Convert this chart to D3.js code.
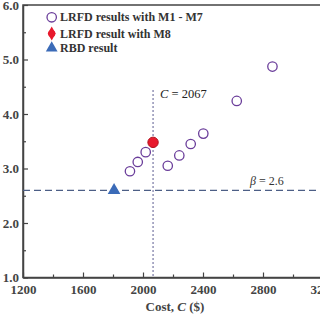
<!DOCTYPE html>
<html>
<head>
<meta charset="utf-8">
<script src="https://cdn.jsdelivr.net/npm/d3@7"></script>
<style>
  body { margin: 0; background: #fff; }
  text { font-family: "Liberation Serif", "Times New Roman", serif; }
</style>
</head>
<body>
<script>
// data
var lrfdCost = [1913, 1965, 2018, 2165, 2242, 2318, 2402, 2625, 2863];
var lrfdBeta = [2.95, 3.12, 3.30, 3.05, 3.24, 3.45, 3.64, 4.24, 4.87];
var m8Cost = [2067];
var m8Beta = [3.48];
var rbdCost = [1807];
var rbdBeta = [2.6];
var xTicks = [1200, 1600, 2000, 2400, 2800, 3200];
var yTicks = [1, 2, 3, 4, 5, 6];
var targetCost = 2067;
var targetBeta = 2.6;
var legendLabels = ["LRFD results with M1 - M7", "LRFD result with M8", "RBD result"];

var width = 320, height = 320;
var axisColor = "#444";

var svg = d3.select("body").append("svg")
  .attr("width", width)
  .attr("height", height);

var xScale = d3.scaleLinear().domain([1200, 3200]).range([23, 323]);
var yScale = d3.scaleLinear().domain([1, 6]).range([277.5, 5]);

// frame
svg.append("rect")
  .attr("x", xScale(1200)).attr("y", yScale(6))
  .attr("width", xScale(3200) - xScale(1200))
  .attr("height", yScale(1) - yScale(6))
  .attr("fill", "none")
  .attr("stroke", axisColor)
  .attr("stroke-width", 1.5);

// x axis, ticks inward
var xAxis = d3.axisBottom(xScale).tickValues(xTicks).tickSizeInner(-5).tickSizeOuter(0)
  .tickFormat(d3.format("d")).tickPadding(7);
svg.append("g").attr("transform", "translate(0," + yScale(1) + ")").call(xAxis);
var xMinor = d3.axisBottom(xScale).tickValues(d3.range(1400, 3200, 400)).tickSize(-3).tickFormat("");
svg.append("g").attr("transform", "translate(0," + yScale(1) + ")").call(xMinor)
  .select(".domain").remove();

// y axis, ticks inward
var yAxis = d3.axisLeft(yScale).tickValues(yTicks).tickSizeInner(-5).tickSizeOuter(0)
  .tickFormat(d3.format(".1f")).tickPadding(4);
svg.append("g").attr("transform", "translate(" + xScale(1200) + ",0)").call(yAxis);
var yMinor = d3.axisLeft(yScale).tickValues([1.5, 2.5, 3.5, 4.5, 5.5]).tickSize(-3).tickFormat("");
svg.append("g").attr("transform", "translate(" + xScale(1200) + ",0)").call(yMinor)
  .select(".domain").remove();

svg.selectAll(".domain").attr("stroke", axisColor).attr("stroke-width", 1.5);
svg.selectAll(".tick line").attr("stroke", axisColor).attr("stroke-width", 1.2);
svg.selectAll(".tick text")
  .attr("fill", axisColor)
  .style("font-family", "Liberation Serif, serif")
  .style("font-weight", "bold")
  .style("font-size", "13px");

// axis title
var title = svg.append("text")
  .attr("x", 175).attr("y", 311)
  .attr("text-anchor", "middle")
  .attr("fill", axisColor)
  .style("font-weight", "bold")
  .style("font-size", "13px");
title.append("tspan").text("Cost, ");
title.append("tspan").style("font-style", "italic").text("C");
title.append("tspan").text(" ($)");

// reference lines
svg.append("line")
  .attr("x1", xScale(targetCost)).attr("x2", xScale(targetCost))
  .attr("y1", 90).attr("y2", yScale(1))
  .attr("stroke", "#5c5c90").attr("stroke-width", 1)
  .attr("stroke-dasharray", "2,2");

svg.append("line")
  .attr("x1", xScale(1200)).attr("x2", xScale(3200))
  .attr("y1", yScale(targetBeta)).attr("y2", yScale(targetBeta))
  .attr("stroke", "#4d5f86").attr("stroke-width", 1.2)
  .attr("stroke-dasharray", "7,4");

var cLabel = svg.append("text")
  .attr("x", xScale(targetCost) + 7).attr("y", 98)
  .attr("fill", "#222").style("font-size", "12.5px");
cLabel.append("tspan").style("font-style", "italic").text("C");
cLabel.append("tspan").text(" = " + targetCost);

var bLabel = svg.append("text")
  .attr("x", 250).attr("y", 185)
  .attr("fill", "#333").style("font-size", "12px");
bLabel.append("tspan").style("font-style", "italic").text("\u03B2");
bLabel.append("tspan").text(" = " + targetBeta);

// points
var purple = "#6a3d9a", red = "#e8192c", blue = "#3b6bb8";

svg.selectAll("circle.lrfd")
  .data(lrfdCost)
  .enter().append("circle")
  .attr("class", "lrfd")
  .attr("cx", function(d) { return xScale(d); })
  .attr("cy", function(d, i) { return yScale(lrfdBeta[i]); })
  .attr("r", 4.7)
  .attr("fill", "none")
  .attr("stroke", purple)
  .attr("stroke-width", 1.3);

svg.selectAll("circle.m8")
  .data(m8Cost)
  .enter().append("circle")
  .attr("class", "m8")
  .attr("cx", function(d) { return xScale(d); })
  .attr("cy", function(d, i) { return yScale(m8Beta[i]); })
  .attr("r", 5.2)
  .attr("fill", red)
  .attr("stroke", "#b0101c")
  .attr("stroke-width", 1);

svg.selectAll("path.rbd")
  .data(rbdCost)
  .enter().append("path")
  .attr("class", "rbd")
  .attr("d", d3.symbol().type(d3.symbolTriangle).size(70))
  .attr("transform", function(d, i) {
    return "translate(" + xScale(d) + "," + yScale(rbdBeta[i]) + ")";
  })
  .attr("fill", blue);

// legend
var legend = svg.append("g");
var ly = [17.3, 33.5, 48];
legend.append("circle").attr("cx", 51.7).attr("cy", ly[0]).attr("r", 4.7)
  .attr("fill", "none").attr("stroke", purple).attr("stroke-width", 1.3);
legend.append("path").attr("d", d3.symbol().type(d3.symbolDiamond).size(55))
  .attr("transform", "translate(51.7," + ly[1] + ")").attr("fill", red);
legend.append("circle").attr("cx", 51.7).attr("cy", ly[1]).attr("r", 3.6).attr("fill", red);
legend.append("path").attr("d", d3.symbol().type(d3.symbolTriangle).size(60))
  .attr("transform", "translate(51.7," + ly[2] + ")").attr("fill", blue);

legend.selectAll("text")
  .data(legendLabels)
  .enter().append("text")
  .attr("x", 60)
  .attr("y", function(d, i) { return ly[i] + 4; })
  .attr("fill", "#333")
  .style("font-weight", "bold")
  .style("font-size", "12px")
  .text(function(d) { return d; });
</script>
</body>
</html>
